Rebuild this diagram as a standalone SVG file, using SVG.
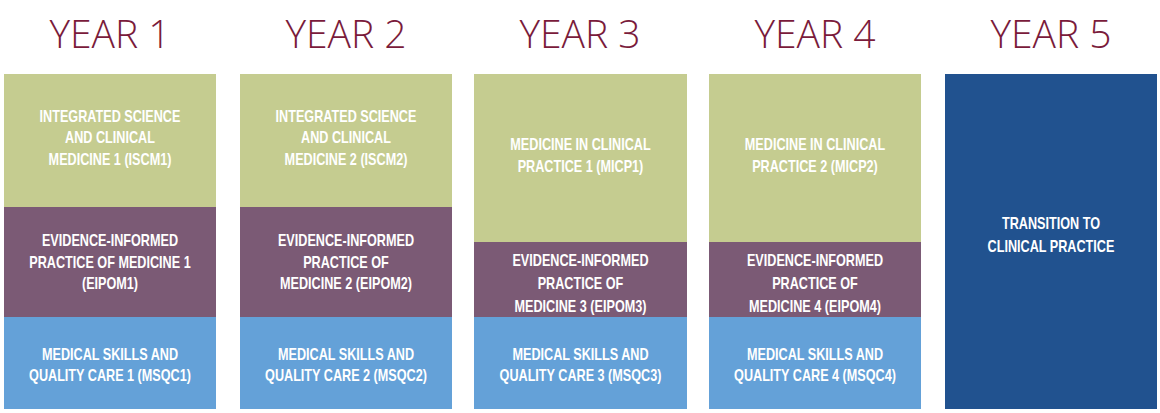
<svg xmlns="http://www.w3.org/2000/svg" width="1160" height="413" viewBox="0 0 1160 413">
<style>
.yr{font-family:"Open Sans","Liberation Sans",sans-serif;font-weight:300;font-size:39px;fill:#7a1b3b;text-anchor:middle}
.t{font-family:"Liberation Sans",Arial,sans-serif;font-weight:bold;font-size:16px;fill:#ffffff;text-anchor:middle}
.g{fill:#c5cc90}.p{fill:#7b5a75}.b{fill:#64a1d8}.d{fill:#21528f}
</style>
<rect width="1160" height="413" fill="#ffffff"/>
<g id="year1">
<text class="yr" x="110" y="48">YEAR 1</text>
<rect class="g" x="4" y="74" width="212" height="133"/>
<rect class="p" x="4" y="207" width="212" height="110"/>
<rect class="b" x="4" y="317" width="212" height="92"/>
<g transform="translate(110 0) scale(0.79 1)">
<text class="t" x="0" y="122">INTEGRATED SCIENCE</text>
<text class="t" x="0" y="143.5">AND CLINICAL</text>
<text class="t" x="0" y="165">MEDICINE 1 (ISCM1)</text>
<text class="t" x="0" y="246.5">EVIDENCE-INFORMED</text>
<text class="t" x="0" y="268">PRACTICE OF MEDICINE 1</text>
<text class="t" x="0" y="289.5">(EIPOM1)</text>
<text class="t" x="0" y="360">MEDICAL SKILLS AND</text>
<text class="t" x="0" y="381">QUALITY CARE 1 (MSQC1)</text>
</g>
</g>
<g id="year2">
<text class="yr" x="346" y="48">YEAR 2</text>
<rect class="g" x="240" y="74" width="212" height="133"/>
<rect class="p" x="240" y="207" width="212" height="110"/>
<rect class="b" x="240" y="317" width="212" height="92"/>
<g transform="translate(346 0) scale(0.79 1)">
<text class="t" x="0" y="122">INTEGRATED SCIENCE</text>
<text class="t" x="0" y="143.5">AND CLINICAL</text>
<text class="t" x="0" y="165">MEDICINE 2 (ISCM2)</text>
<text class="t" x="0" y="246.5">EVIDENCE-INFORMED</text>
<text class="t" x="0" y="268">PRACTICE OF</text>
<text class="t" x="0" y="289.5">MEDICINE 2 (EIPOM2)</text>
<text class="t" x="0" y="360">MEDICAL SKILLS AND</text>
<text class="t" x="0" y="381">QUALITY CARE 2 (MSQC2)</text>
</g>
</g>
<g id="year3">
<text class="yr" x="580" y="48">YEAR 3</text>
<rect class="g" x="474" y="74" width="213" height="168"/>
<rect class="p" x="474" y="242" width="213" height="75"/>
<rect class="b" x="474" y="317" width="213" height="92"/>
<g transform="translate(580.5 0) scale(0.79 1)">
<text class="t" x="0" y="150">MEDICINE IN CLINICAL</text>
<text class="t" x="0" y="172">PRACTICE 1 (MICP1)</text>
<text class="t" x="0" y="266">EVIDENCE-INFORMED</text>
<text class="t" x="0" y="289">PRACTICE OF</text>
<text class="t" x="0" y="312">MEDICINE 3 (EIPOM3)</text>
<text class="t" x="0" y="360">MEDICAL SKILLS AND</text>
<text class="t" x="0" y="381">QUALITY CARE 3 (MSQC3)</text>
</g>
</g>
<g id="year4">
<text class="yr" x="815" y="48">YEAR 4</text>
<rect class="g" x="709" y="74" width="212" height="168"/>
<rect class="p" x="709" y="242" width="212" height="75"/>
<rect class="b" x="709" y="317" width="212" height="92"/>
<g transform="translate(815 0) scale(0.79 1)">
<text class="t" x="0" y="150">MEDICINE IN CLINICAL</text>
<text class="t" x="0" y="172">PRACTICE 2 (MICP2)</text>
<text class="t" x="0" y="266">EVIDENCE-INFORMED</text>
<text class="t" x="0" y="289">PRACTICE OF</text>
<text class="t" x="0" y="312">MEDICINE 4 (EIPOM4)</text>
<text class="t" x="0" y="360">MEDICAL SKILLS AND</text>
<text class="t" x="0" y="381">QUALITY CARE 4 (MSQC4)</text>
</g>
</g>
<g id="year5">
<text class="yr" x="1051" y="48">YEAR 5</text>
<rect class="d" x="945" y="74" width="212" height="335"/>
<g transform="translate(1051 0) scale(0.79 1)">
<text class="t" x="0" y="229">TRANSITION TO</text>
<text class="t" x="0" y="252">CLINICAL PRACTICE</text>
</g>
</g>
<g id="connectors"/>
</svg>
